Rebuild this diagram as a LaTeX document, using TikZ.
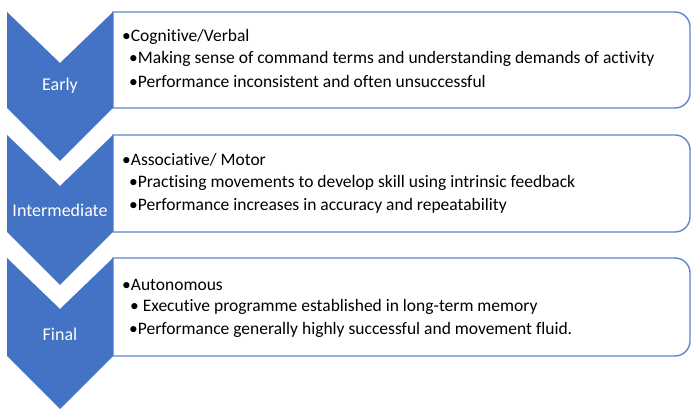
\documentclass[tikz,border=0pt]{standalone}
\usepackage{fontspec}
\setmainfont[Ligatures=NoCommon]{Carlito}
\definecolor{chev}{HTML}{4472C4}
\definecolor{boxline}{HTML}{5B86D0}
\begin{document}
\begin{tikzpicture}[x=1pt,y=-1pt,
  stagelabel/.style={text=white,font=\fontsize{18}{21}\selectfont},
  headtext/.style={anchor=west,inner sep=0pt,font=\fontsize{17.5}{21}\selectfont},
  itemtext/.style={anchor=west,inner sep=0pt,font=\fontsize{17.5}{21}\selectfont},
  boxframe/.style={draw=boxline,line width=1.4pt,fill=white}]
\useasboundingbox (0,0) rectangle (699,419);
\fill[white] (0,0) rectangle (699,419);
% boxes
\foreach \t/\b in {12/108,135/232,258/356}{
  \draw[boxframe] (400,\t) [rounded corners=15pt] -- (690,\t) -- (690,\b) -- (400,\b) [sharp corners] -- (113,\b) -- (113,\t) -- cycle;
}
% chevrons
\foreach \t/\b in {12/108,135/232,258/356}{
  \fill[chev] (7,\t) -- (60,\t+51) -- (113,\t) -- (113,\b) -- (60,\b+53) -- (7,\b) -- cycle;
}
\node[stagelabel] (early) at (60,86) {Early};
\node[stagelabel] (inter) at (60,210) {Intermediate};
\node[stagelabel] (final) at (60,334) {Final};
% texts
\node[headtext] (h1) at (122,37) {•Cognitive/Verbal};
\node[itemtext] (a1) at (129,59) {•Making sense of command terms and understanding demands of activity};
\node[itemtext] (a2) at (129,81) {•Performance inconsistent and often unsuccessful};
\node[headtext] (h2) at (122,160) {•Associative/ Motor};
\node[itemtext] (b1) at (129,183) {•Practising movements to develop skill using intrinsic feedback};
\node[itemtext] (b2) at (129,206) {•Performance increases in accuracy and repeatability};
\node[headtext] (h3) at (122,285) {•Autonomous};
\node[itemtext] (c1) at (130,307) {• Executive programme established in long-term memory};
\node[itemtext] (c2) at (129,330) {•Performance generally highly successful and movement fluid.};
\end{tikzpicture}
\end{document}
